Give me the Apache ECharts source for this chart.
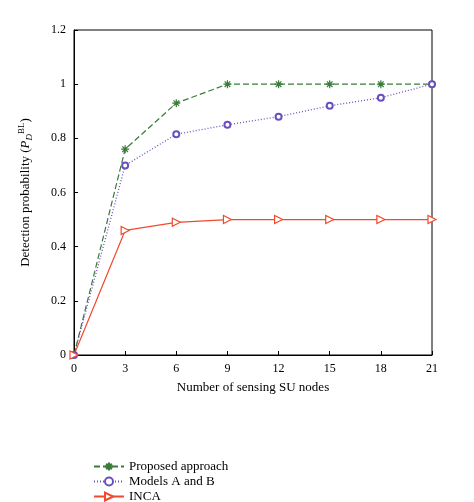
<!DOCTYPE html>
<html><head><meta charset="utf-8">
<script src="https://cdn.jsdelivr.net/npm/echarts@6/dist/echarts.min.js"></script>
<style>html,body{margin:0;padding:0;background:#fff}#c{width:474px;height:502px}</style>
</head><body><div id="c"></div>
<script>
const categories = [0, 3, 6, 9, 12, 15, 18, 21];
const proposed = [0, 0.76, 0.93, 1, 1, 1, 1, 1];
const modelsAB = [0, 0.70, 0.815, 0.85, 0.88, 0.92, 0.95, 1.0];
const inca = [0, 0.46, 0.49, 0.5, 0.5, 0.5, 0.5, 0.5];
const names = ['Proposed approach', 'Models A and B', 'INCA'];
const pair = a => categories.map((x, i) => [x, a[i]]);
const F = 'Liberation Serif';
const chart = echarts.init(document.getElementById('c'));
const leg = (n, top) => ({data: [n], orient: 'vertical', left: 88, top: top, itemWidth: 30, itemHeight: 10,
    textStyle: {fontFamily: F, fontSize: 13, color: '#000'}});
chart.setOption({
  animation: false,
  textStyle: {fontFamily: F},
  grid: {left: 74, right: 42, top: 30, bottom: 147, show: true, borderColor: '#000', borderWidth: 1},
  xAxis: {type: 'value', min: 0, max: 21, interval: 3,
    name: 'Number of sensing SU nodes', nameLocation: 'middle', nameGap: 26,
    nameTextStyle: {fontFamily: F, fontSize: 13, color: '#000'},
    axisLine: {lineStyle: {color: '#000'}}, axisTick: {inside: true, length: 4, lineStyle: {color: '#000'}},
    axisLabel: {fontFamily: F, fontSize: 12, color: '#000'}, splitLine: {show: false}},
  yAxis: {type: 'value', min: 0, max: 1.2, interval: 0.2,
    name: '{a|Detection probability (}{i|P}{s|D}{p|BL}{a|)}', nameLocation: 'middle', nameGap: 40,
    nameTextStyle: {rich: {
      a: {fontFamily: F, fontSize: 13, color: '#000'},
      i: {fontFamily: F, fontSize: 13, fontStyle: 'italic', color: '#000'},
      s: {fontFamily: F, fontSize: 9, fontStyle: 'italic', color: '#000', padding: [8, 0, 0, 0]},
      p: {fontFamily: F, fontSize: 9, color: '#000', padding: [0, 0, 8, 0]}}},
    axisLine: {lineStyle: {color: '#000'}}, axisTick: {inside: true, length: 4, lineStyle: {color: '#000'}},
    axisLabel: {fontFamily: F, fontSize: 12, color: '#000', formatter: v => String(Math.round(v * 10) / 10)},
    splitLine: {show: false}},
  legend: [leg(names[0], 455), leg(names[1], 470), leg(names[2], 485)],
  series: [
    {name: names[0], type: 'line', data: pair(proposed), symbol: 'path://M0,-5L0,5M-5,0L5,0M-3.5,-3.5L3.5,3.5M-3.5,3.5L3.5,-3.5', symbolSize: 8,
      lineStyle: {color: '#3a7a3a', type: [6, 3], width: 1.2}, itemStyle: {color: 'none', borderColor: '#3a7a3a', borderWidth: 1.2}},
    {name: names[1], type: 'line', data: pair(modelsAB), symbol: 'emptyCircle', symbolSize: 6,
      lineStyle: {color: '#6a4fc0', type: [1, 2], width: 1.3}, itemStyle: {color: '#6a4fc0', borderColor: '#6a4fc0', borderWidth: 1}},
    {name: names[2], type: 'line', data: pair(inca), symbol: 'triangle', symbolRotate: -90, symbolSize: 8,
      lineStyle: {color: '#f04a2e', width: 1.2}, itemStyle: {color: '#fff', borderColor: '#f04a2e', borderWidth: 1.2}}
  ]
});
</script></body></html>
